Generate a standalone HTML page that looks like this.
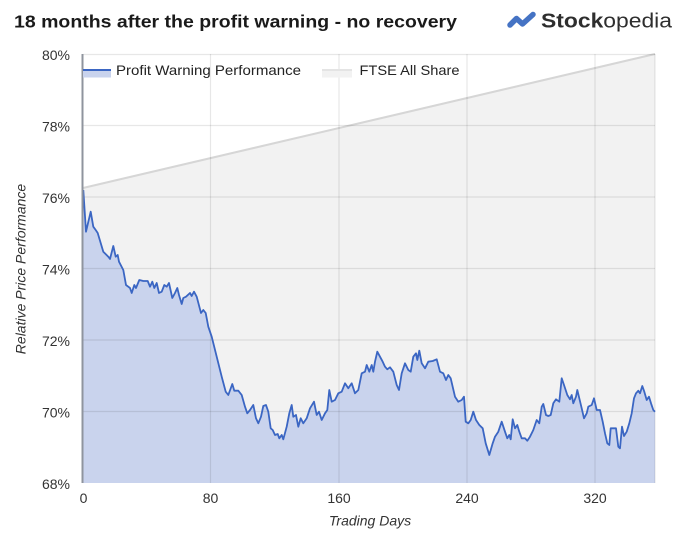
<!DOCTYPE html>
<html>
<head>
<meta charset="utf-8">
<style>
  html, body { margin:0; padding:0; background:#ffffff; }
  body { width:680px; height:547px; overflow:hidden; }
  svg { display:block; }
  text { font-family: "Liberation Sans", Arial, sans-serif; }
</style>
</head>
<body>
<svg width="680" height="547" viewBox="0 0 680 547" xmlns="http://www.w3.org/2000/svg">
  <rect x="0" y="0" width="680" height="547" fill="#ffffff"/>

  <!-- Title -->
  <text x="14" y="27.5" font-size="17.5" font-weight="bold" fill="#1a1a1a" textLength="443" lengthAdjust="spacingAndGlyphs">18 months after the profit warning - no recovery</text>

  <!-- Logo -->
  <polyline points="510,25 516.5,18.5 522.5,24 533,14.5" fill="none" stroke="#4573c4" stroke-width="5.5" stroke-linecap="round" stroke-linejoin="round"/>
  <text x="541" y="27.5" font-size="20" fill="#2e2e2e" textLength="131" lengthAdjust="spacingAndGlyphs"><tspan font-weight="bold">Stock</tspan><tspan>opedia</tspan></text>

  <!-- FTSE area (gray) -->
  <path d="M83,188 L655,54 L655,483 L83,483 Z" fill="#f2f2f2"/>
  <line x1="83" y1="188" x2="655" y2="54" stroke="#d6d6d6" stroke-width="2"/>

  <!-- Profit warning area -->
  <path fill="#c9d3ed" stroke="none" d="M83,483 L83.3,190 L86,231.7 L90.7,211.7 L93.3,226.7 L95.7,230 L97.7,233 L103.3,251.7 L108.3,256.7 L110,259 L113.3,246 L115.7,256.7 L117.7,255 L119,261.7 L123.3,270 L126,285 L130,288 L131.7,293 L134.3,285 L136,288 L139.3,280 L143.3,281 L147.7,281 L150,286.7 L152.3,281.7 L154.3,288 L156.7,283 L159,293 L161.7,291.7 L164.3,285 L166.7,286.7 L169,283 L172.3,298 L175,293 L177.3,288 L179,295 L181.7,304 L183.3,298 L186,296.7 L190,293 L191.7,296 L194,291.7 L196.7,296.7 L201,313 L203.3,310 L205.7,313 L208.3,326.7 L211.7,336.7 L216.7,356.7 L221.7,376.7 L225.7,391.7 L228.3,395 L232.3,384 L234.3,390.7 L238.3,390.7 L241.7,395 L245,406.7 L247.3,413.3 L250,410 L253.3,405 L256,418.3 L258.3,423.3 L261,416.7 L263.3,406 L266,405 L268.3,411.7 L270.7,428.3 L272.7,430 L275,435 L277.7,434 L279.3,438.3 L281.7,435 L283.3,439.3 L286.7,426.7 L289.3,413.3 L291.7,405 L293.3,416.7 L296,415 L298.3,426.7 L300.7,418.3 L303.3,423.3 L306.7,418.3 L310,408.3 L314,401.7 L316.7,415 L319,411.7 L321.7,420 L325,413.3 L327.3,410 L329.3,390 L331.7,401.7 L335,400 L338.3,393.3 L341.7,391.7 L345,383.3 L348.3,388.3 L351.7,383.3 L355,393.3 L358.3,390 L361.7,373.3 L365,371.7 L366.7,365 L369.3,371.7 L371.7,365 L373.3,371.7 L375,361.7 L377.3,351.7 L380,356.7 L382.7,361.7 L385,366.7 L387.3,369.3 L390,367.3 L393.3,371.7 L396.7,385 L399,390 L401.7,373.3 L405,363.3 L408.3,370 L410.7,371.7 L413.3,356.7 L416,353.3 L417.3,360 L419.3,350.7 L421.7,363.3 L425,368.3 L428.3,361.7 L432.7,361 L436.7,359.3 L440,371.7 L443.3,373.3 L446,380 L448.3,375 L450.7,378.3 L455,396.7 L458.3,401.7 L461.7,400 L464,396.7 L465.7,421.7 L468.3,423.3 L470.7,420 L473.3,411.7 L476,420 L479.3,425 L482.7,428.3 L485.7,443.3 L489.3,455 L492.7,443.3 L495,436.7 L498.3,431.7 L501.7,421.7 L505,431.7 L507.3,438.3 L509.3,435 L510.7,439.3 L512.7,419.3 L515,428.3 L517.3,425 L519.3,431.7 L521.7,438.3 L525,438.3 L527.3,440.7 L530,436.7 L533.3,430 L536.7,420 L539.3,423.3 L541.7,406.7 L543.3,404 L546,415 L548.3,416 L550.7,415 L553.3,403.3 L556,399.3 L559.3,401.7 L561.7,378.3 L564,385 L567.3,395 L570,399.3 L571.7,395 L573.3,403.3 L576,396.7 L577.3,390 L579.3,398.3 L581.7,408.3 L584,418.3 L586.7,413.3 L588.3,406.7 L591.7,405 L594,398.3 L596.7,410 L600,410 L602.7,421.7 L605,433.3 L607.3,443.3 L609.3,445 L610.7,428.3 L613.3,428.3 L616,428.3 L618.3,446.7 L620,448.3 L622,426.7 L624,436 L626.7,431.7 L629.3,423.3 L631.7,413.3 L634,398.3 L636,393.3 L638.3,390.7 L640,393.3 L642.3,386 L644.3,391.7 L646.7,400 L649,396.7 L651,403.3 L653.3,410 L655,411.7 L655,483 Z"/>

  <!-- Gridlines (on top, translucent) -->
  <g stroke="rgba(0,0,0,0.095)" stroke-width="1.2">
    <line x1="83" y1="54.5" x2="655" y2="54.5"/>
    <line x1="83" y1="125.5" x2="655" y2="125.5"/>
    <line x1="83" y1="197" x2="655" y2="197"/>
    <line x1="83" y1="268.5" x2="655" y2="268.5"/>
    <line x1="83" y1="340" x2="655" y2="340"/>
    <line x1="83" y1="411.5" x2="655" y2="411.5"/>
    <line x1="210.5" y1="54" x2="210.5" y2="483"/>
    <line x1="339" y1="54" x2="339" y2="483"/>
    <line x1="467" y1="54" x2="467" y2="483"/>
    <line x1="595" y1="54" x2="595" y2="483"/>
    <line x1="655" y1="54" x2="655" y2="483"/>
  </g>

  <!-- Profit warning line -->
  <polyline fill="none" stroke="#3b66c3" stroke-width="1.8" stroke-linejoin="round" points="83.3,190 86,231.7 90.7,211.7 93.3,226.7 95.7,230 97.7,233 103.3,251.7 108.3,256.7 110,259 113.3,246 115.7,256.7 117.7,255 119,261.7 123.3,270 126,285 130,288 131.7,293 134.3,285 136,288 139.3,280 143.3,281 147.7,281 150,286.7 152.3,281.7 154.3,288 156.7,283 159,293 161.7,291.7 164.3,285 166.7,286.7 169,283 172.3,298 175,293 177.3,288 179,295 181.7,304 183.3,298 186,296.7 190,293 191.7,296 194,291.7 196.7,296.7 201,313 203.3,310 205.7,313 208.3,326.7 211.7,336.7 216.7,356.7 221.7,376.7 225.7,391.7 228.3,395 232.3,384 234.3,390.7 238.3,390.7 241.7,395 245,406.7 247.3,413.3 250,410 253.3,405 256,418.3 258.3,423.3 261,416.7 263.3,406 266,405 268.3,411.7 270.7,428.3 272.7,430 275,435 277.7,434 279.3,438.3 281.7,435 283.3,439.3 286.7,426.7 289.3,413.3 291.7,405 293.3,416.7 296,415 298.3,426.7 300.7,418.3 303.3,423.3 306.7,418.3 310,408.3 314,401.7 316.7,415 319,411.7 321.7,420 325,413.3 327.3,410 329.3,390 331.7,401.7 335,400 338.3,393.3 341.7,391.7 345,383.3 348.3,388.3 351.7,383.3 355,393.3 358.3,390 361.7,373.3 365,371.7 366.7,365 369.3,371.7 371.7,365 373.3,371.7 375,361.7 377.3,351.7 380,356.7 382.7,361.7 385,366.7 387.3,369.3 390,367.3 393.3,371.7 396.7,385 399,390 401.7,373.3 405,363.3 408.3,370 410.7,371.7 413.3,356.7 416,353.3 417.3,360 419.3,350.7 421.7,363.3 425,368.3 428.3,361.7 432.7,361 436.7,359.3 440,371.7 443.3,373.3 446,380 448.3,375 450.7,378.3 455,396.7 458.3,401.7 461.7,400 464,396.7 465.7,421.7 468.3,423.3 470.7,420 473.3,411.7 476,420 479.3,425 482.7,428.3 485.7,443.3 489.3,455 492.7,443.3 495,436.7 498.3,431.7 501.7,421.7 505,431.7 507.3,438.3 509.3,435 510.7,439.3 512.7,419.3 515,428.3 517.3,425 519.3,431.7 521.7,438.3 525,438.3 527.3,440.7 530,436.7 533.3,430 536.7,420 539.3,423.3 541.7,406.7 543.3,404 546,415 548.3,416 550.7,415 553.3,403.3 556,399.3 559.3,401.7 561.7,378.3 564,385 567.3,395 570,399.3 571.7,395 573.3,403.3 576,396.7 577.3,390 579.3,398.3 581.7,408.3 584,418.3 586.7,413.3 588.3,406.7 591.7,405 594,398.3 596.7,410 600,410 602.7,421.7 605,433.3 607.3,443.3 609.3,445 610.7,428.3 613.3,428.3 616,428.3 618.3,446.7 620,448.3 622,426.7 624,436 626.7,431.7 629.3,423.3 631.7,413.3 634,398.3 636,393.3 638.3,390.7 640,393.3 642.3,386 644.3,391.7 646.7,400 649,396.7 651,403.3 653.3,410 655,411.7"/>

  <!-- Left axis line -->
  <line x1="82.5" y1="54" x2="82.5" y2="483" stroke="#8f949e" stroke-width="2"/>

  <!-- Legend -->
  <rect x="83" y="70" width="28" height="7.5" fill="#c9d3ed"/>
  <line x1="83" y1="70" x2="111" y2="70" stroke="#3b66c3" stroke-width="2"/>
  <text x="116" y="75" font-size="14" fill="#222222" textLength="185" lengthAdjust="spacingAndGlyphs">Profit Warning Performance</text>
  <rect x="322" y="70" width="30" height="7.5" fill="#f2f2f2"/>
  <line x1="322" y1="70" x2="352" y2="70" stroke="#e4e4e4" stroke-width="2"/>
  <text x="359.5" y="75" font-size="14" fill="#222222" textLength="100" lengthAdjust="spacingAndGlyphs">FTSE All Share</text>

  <!-- Y tick labels -->
  <g font-size="14" fill="#333333" text-anchor="end">
    <text x="70" y="60">80%</text>
    <text x="70" y="131.5">78%</text>
    <text x="70" y="203">76%</text>
    <text x="70" y="274.5">74%</text>
    <text x="70" y="346">72%</text>
    <text x="70" y="417.5">70%</text>
    <text x="70" y="489">68%</text>
  </g>

  <!-- X tick labels -->
  <g font-size="14" fill="#333333" text-anchor="middle">
    <text x="83.5" y="503">0</text>
    <text x="210.5" y="503">80</text>
    <text x="339" y="503">160</text>
    <text x="467" y="503">240</text>
    <text x="595" y="503">320</text>
  </g>

  <!-- Axis titles -->
  <text x="370" y="525.5" font-size="14" font-style="italic" fill="#333333" text-anchor="middle">Trading Days</text>
  <text transform="translate(25.5,269) rotate(-90)" font-size="14" font-style="italic" fill="#333333" text-anchor="middle">Relative Price Performance</text>
</svg>
</body>
</html>
